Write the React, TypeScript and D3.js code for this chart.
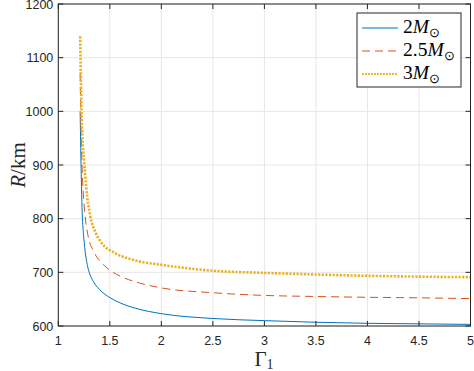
import React from "react";
import * as d3 from "d3";

const xTicks = [1, 1.5, 2, 2.5, 3, 3.5, 4, 4.5, 5];
const yTicks = [600, 700, 800, 900, 1000, 1100, 1200];

const m2: [number, number][] = [
  [1.212, 1000], [1.218, 930], [1.225, 860], [1.232, 810], [1.245, 770], [1.26, 740],
  [1.28, 715], [1.3, 700], [1.34, 683], [1.4, 668], [1.5, 653], [1.6, 643],
  [1.75, 633], [2.0, 623], [2.5, 614], [3, 610], [3.5, 607], [4, 605], [4.5, 604], [5, 603],
];
const m25: [number, number][] = [
  [1.212, 1070], [1.22, 980], [1.23, 900], [1.245, 840], [1.26, 805], [1.29, 767],
  [1.34, 740], [1.42, 718], [1.5, 704], [1.6, 693], [1.79, 680], [2.0, 671],
  [2.5, 662], [3, 657], [3.5, 655], [4, 653.5], [4.5, 652.5], [5, 651],
];
const m3: [number, number][] = [
  [1.212, 1140], [1.22, 1050], [1.23, 970], [1.25, 909], [1.27, 860], [1.31, 805],
  [1.36, 775], [1.42, 755], [1.55, 736], [1.73, 723], [2.0, 714], [2.5, 703],
  [3, 699], [3.5, 696], [4, 693.5], [4.5, 692], [5, 691],
];

const seriesNames = ["2", "2.5", "3"];

export default function App() {
  const W = 474, H = 371;
  const L = 58.3, R = 470.5, T = 4, B = 326;
  const x = d3.scaleLinear().domain([1, 5]).range([L, R]);
  const y = d3.scaleLinear().domain([600, 1200]).range([B, T]);
  const gen = d3
    .line<[number, number]>()
    .x((d) => x(d[0]))
    .y((d) => y(d[1]))
    .curve(d3.curveMonotoneX);
  const axisColor = "#262626";
  const gridColor = "#e6e6e6";
  const font = "'Liberation Sans', Arial, Helvetica, sans-serif";
  const serif = "'Liberation Serif', 'Times New Roman', serif";
  const styles = [
    { color: "#0072BD", width: 1, dash: undefined as string | undefined, data: m2 },
    { color: "#D95319", width: 1, dash: "8,5", data: m25 },
    { color: "#EDB120", width: 2.6, dash: "2.2,1.4", data: m3 },
  ];
  const legendY = [28, 51, 74];
  const tl = 5;
  return (
    <svg width={W} height={H} style={{ position: "absolute", left: 0, top: 0, background: "#fff" }}>
      <rect x={0} y={0} width={W} height={H} fill="#fff" />
      {xTicks.map((t) => (
        <line key={"gx" + t} x1={x(t)} x2={x(t)} y1={T} y2={B} stroke={gridColor} strokeWidth={1} />
      ))}
      {yTicks.map((t) => (
        <line key={"gy" + t} x1={L} x2={R} y1={y(t)} y2={y(t)} stroke={gridColor} strokeWidth={1} />
      ))}
      {styles.map((s, i) => (
        <path
          key={"s" + i}
          d={gen(s.data) || ""}
          fill="none"
          stroke={s.color}
          strokeWidth={s.width}
          strokeDasharray={s.dash}
        />
      ))}
      <rect x={L} y={T} width={R - L} height={B - T} fill="none" stroke={axisColor} strokeWidth={1} />
      {xTicks.map((t) => (
        <g key={"tx" + t}>
          <line x1={x(t)} x2={x(t)} y1={B} y2={B - tl} stroke={axisColor} />
          <line x1={x(t)} x2={x(t)} y1={T} y2={T + tl} stroke={axisColor} />
          <text x={x(t)} y={345} textAnchor="middle" fontFamily={font} fontSize={12.5} fill={axisColor}>
            {t}
          </text>
        </g>
      ))}
      {yTicks.map((t) => (
        <g key={"ty" + t}>
          <line x1={L} x2={L + tl} y1={y(t)} y2={y(t)} stroke={axisColor} />
          <line x1={R} x2={R - tl} y1={y(t)} y2={y(t)} stroke={axisColor} />
          <text x={L - 5} y={y(t) + 4.5} textAnchor="end" fontFamily={font} fontSize={12.5} fill={axisColor}>
            {t}
          </text>
        </g>
      ))}
      <text
        transform={`translate(25,165) rotate(-90)`}
        textAnchor="middle"
        fontFamily={serif}
        fontSize={21}
        fill={axisColor}
      >
        <tspan fontStyle="italic">R</tspan>
        <tspan>/km</tspan>
      </text>
      <text x={264} y={366} textAnchor="middle" fontFamily={serif} fontSize={21} fill={axisColor}>
        Γ<tspan fontSize={14} dy={3}>1</tspan>
      </text>
      <rect x={357} y={13} width={104} height={74} fill="#fff" stroke={axisColor} strokeWidth={1} />
      {styles.map((s, i) => (
        <g key={"lg" + i}>
          <line
            x1={362}
            x2={398}
            y1={legendY[i]}
            y2={legendY[i]}
            stroke={s.color}
            strokeWidth={i === 2 ? 2 : 1}
            strokeDasharray={i === 1 ? "8,5" : i === 2 ? "1.8,1.2" : undefined}
          />
          <text x={403} y={legendY[i] + 5} fontFamily={serif} fontSize={19.5} fill="#000">
            {seriesNames[i]}
            <tspan fontStyle="italic">M</tspan>
            <tspan fontSize={13} dy={4}>⊙</tspan>
          </text>
        </g>
      ))}
    </svg>
  );
}
